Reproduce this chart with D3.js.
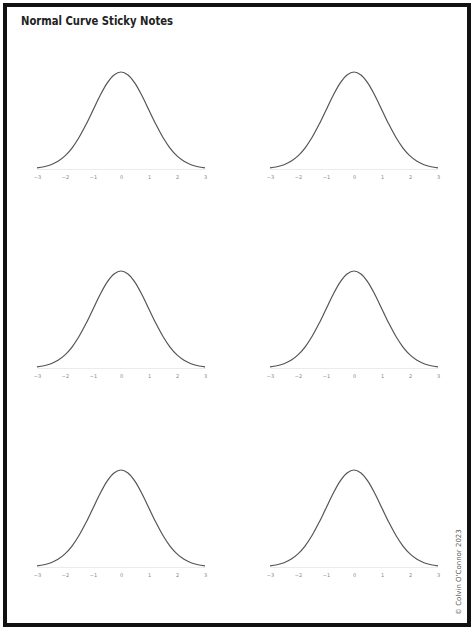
<!DOCTYPE html>
<html><head><meta charset="utf-8">
<script src="https://cdn.jsdelivr.net/npm/d3@7"></script>
<style>body{margin:0;background:#fff}</style></head>
<body><svg id="c" width="474" height="630"></svg>
<script>
const zValues = [-3,-2.75,-2.5,-2.25,-2,-1.75,-1.5,-1.25,-1,-0.75,-0.5,-0.25,0,0.25,0.5,0.75,1,1.25,1.5,1.75,2,2.25,2.5,2.75,3];
const heights = [0.0111,0.0228,0.0439,0.0796,0.1353,0.2163,0.3247,0.4578,0.6065,0.7548,0.8825,0.9692,1,0.9692,0.8825,0.7548,0.6065,0.4578,0.3247,0.2163,0.1353,0.0796,0.0439,0.0228,0.0111];
const tickLabels = [-3,-2,-1,0,1,2,3];
const panelCols = [37,270];
const panelRows = [169,368,567];

const svg = d3.select("#c");
svg.append("rect").attr("x",5).attr("y",5).attr("width",464).attr("height",620)
  .attr("fill","none").attr("stroke","#111").attr("stroke-width",4);
svg.append("text").attr("x",21).attr("y",25).text("Normal Curve Sticky Notes")
  .attr("font-family","DejaVu Sans Condensed, sans-serif")
  .attr("font-weight","bold").attr("font-size",13).attr("fill","#222")
  .attr("textLength",152).attr("lengthAdjust","spacingAndGlyphs");

const pts = zValues.map((z,i)=>({z,h:heights[i]}));
panelRows.forEach(by=>panelCols.forEach(bx=>{
  const x = d3.scaleLinear().domain([-3,3]).range([bx,bx+168]);
  const y = d3.scaleLinear().domain([0,1]).range([by,by-97]);
  const g = svg.append("g");
  g.append("g").attr("transform",`translate(0,${by})`)
    .call(d3.axisBottom(x).tickValues(tickLabels).tickFormat(d3.format("d")).tickSize(0).tickPadding(6))
    .call(a=>{a.select(".domain").attr("stroke","#ddd").attr("stroke-width",0.6);
      a.selectAll("text").attr("font-size",5).attr("fill","#888").attr("font-family","DejaVu Sans");});
  g.append("path").datum(pts).attr("fill","none").attr("stroke","#555").attr("stroke-width",1.2)
    .attr("d",d3.line().x(d=>x(d.z)).y(d=>y(d.h)).curve(d3.curveCatmullRom));
}));
svg.append("text").attr("transform","translate(461,615) rotate(-90)")
  .text("© Colvin O'Connor 2023").attr("font-size",7).attr("fill","#555")
  .attr("font-family","DejaVu Sans");
</script></body></html>
